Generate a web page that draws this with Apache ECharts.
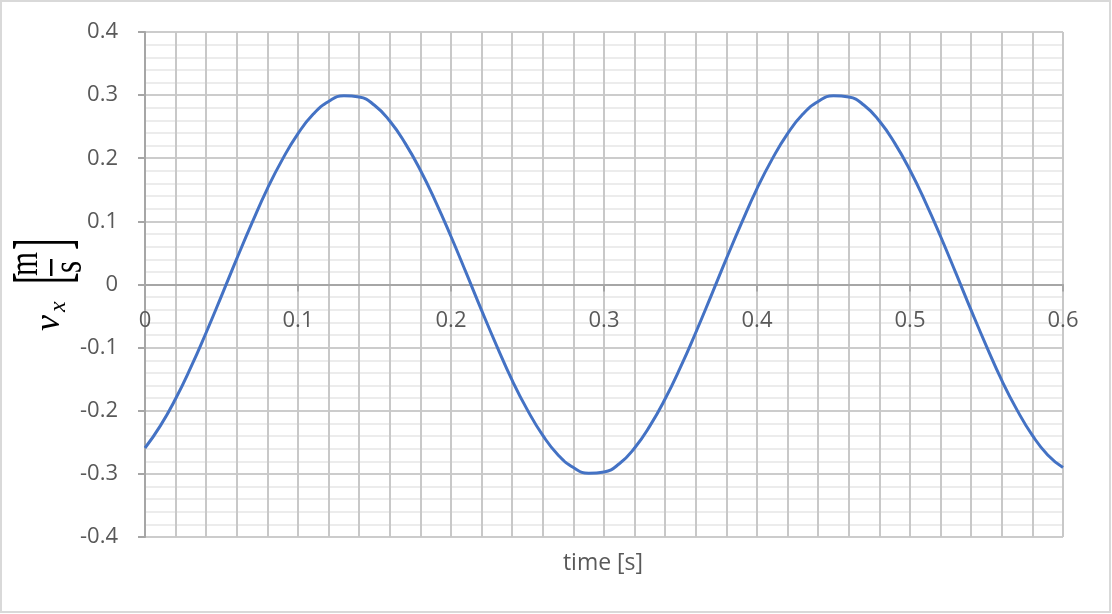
<!DOCTYPE html>
<html>
<head>
<meta charset="utf-8">
<script src="https://cdn.jsdelivr.net/npm/echarts@6/dist/echarts.min.js"></script>
<style>
html,body{margin:0;padding:0;background:#fff;}
#chart{width:1112px;height:614px;}
</style>
</head>
<body>
<div id="chart"></div>
<script>
// time samples [s]
const timeValues = [0.00,0.01,0.02,0.03,0.04,0.05,0.06,0.07,0.08,0.09,
  0.10,0.11,0.12,0.13,0.14,0.15,0.16,0.17,0.18,0.19,
  0.20,0.21,0.22,0.23,0.24,0.25,0.26,0.27,0.28,0.29,
  0.30,0.31,0.32,0.33,0.34,0.35,0.36,0.37,0.38,0.39,
  0.40,0.41,0.42,0.43,0.44,0.45,0.46,0.47,0.48,0.49,
  0.50,0.51,0.52,0.53,0.54,0.55,0.56,0.57,0.58,0.59,0.60];
// velocity v_x [m/s]
const vxValues = [-0.259,-0.224,-0.181,-0.131,-0.076,-0.018,0.041,0.098,0.152,0.199,
  0.239,0.270,0.290,0.299,0.297,0.284,0.259,0.224,0.181,0.131,
  0.076,0.018,-0.041,-0.098,-0.152,-0.199,-0.239,-0.270,-0.290,-0.299,
  -0.297,-0.284,-0.259,-0.224,-0.181,-0.131,-0.076,-0.018,0.041,0.098,
  0.152,0.199,0.239,0.270,0.290,0.299,0.297,0.284,0.259,0.224,
  0.181,0.131,0.076,0.018,-0.041,-0.098,-0.152,-0.199,-0.239,-0.270,-0.290];
const xTitle = 'time [s]';

const labelFont = 'Open Sans';
const chart = echarts.init(document.getElementById('chart'), null, {renderer:'canvas'});
const seriesData = timeValues.map((t,i)=>[t, vxValues[i]]);

const serif = '"Liberation Serif", "DejaVu Serif", serif';
const option = {
  animation:false,
  backgroundColor:'#ffffff',
  grid:{left:145,right:49,top:32,bottom:77,containLabel:false},
  xAxis:{
    type:'value',min:0,max:0.6,interval:0.1,
    position:'bottom',offset:-252.5,
    axisLine:{show:true,onZero:false,lineStyle:{color:'#a6a6a6',width:2}},
    axisTick:{show:true,length:7,lineStyle:{color:'#a6a6a6',width:2}},
    axisLabel:{color:'#595959',fontFamily:labelFont,fontSize:22,margin:25},
    splitLine:{show:true,lineStyle:{color:'#c8c8c8',width:2}},
    minorTick:{show:false,splitNumber:5},
    minorSplitLine:{show:true,lineStyle:{color:'#c8c8c8',width:2}}
  },
  yAxis:{
    type:'value',min:-0.4,max:0.4,interval:0.1,
    axisLine:{show:true,onZero:false,lineStyle:{color:'#a6a6a6',width:2}},
    axisTick:{show:true,length:7,lineStyle:{color:'#a6a6a6',width:2}},
    axisLabel:{color:'#595959',fontFamily:labelFont,fontSize:22,margin:27},
    splitLine:{show:true,lineStyle:{color:'#cccccc',width:2}},
    minorTick:{show:false,splitNumber:5},
    minorSplitLine:{show:true,lineStyle:{color:'#ececec',width:2}}
  },
  series:[{
    type:'line',data:seriesData,smooth:0.5,showSymbol:false,
    lineStyle:{color:'#4472c4',width:3},itemStyle:{color:'#4472c4'},
    clip:true
  }],
  graphic:[
    {type:'rect',silent:true,z:-10,shape:{x:1,y:1,width:1109,height:611},
     style:{fill:'none',stroke:'#d9d9d9',lineWidth:2}},
    {type:'text',x:603,y:563,style:{text:xTitle,font:'23px "Open Sans"',fill:'#595959',align:'center',verticalAlign:'middle'}},
    {type:'group',x:50,y:331,rotation:Math.PI/2,children:[
      {type:'text',x:0,y:0,style:{text:'v',font:'italic 36px '+serif,fill:'#000',align:'left',verticalAlign:'middle'}},
      {type:'text',x:19,y:9,style:{text:'x',font:'italic 24px '+serif,fill:'#000',align:'left',verticalAlign:'middle'}},
      {type:'text',x:47,y:-2,scaleX:0.45,style:{text:'[',font:'78px '+serif,fill:'#000',align:'left',verticalAlign:'middle'}},
      {type:'text',x:55,y:-24,scaleY:1.35,style:{text:'m',font:'31px '+serif,fill:'#000',align:'left',verticalAlign:'middle'}},
      {type:'rect',shape:{x:55,y:0,width:17,height:2.5},style:{fill:'#000'}},
      {type:'text',x:58,y:20,scaleY:1.35,style:{text:'s',font:'31px '+serif,fill:'#000',align:'left',verticalAlign:'middle'}},
      {type:'text',x:81,y:-2,scaleX:0.45,style:{text:']',font:'78px '+serif,fill:'#000',align:'left',verticalAlign:'middle'}}
    ]}
  ]
};
chart.setOption(option);
</script>
</body>
</html>
